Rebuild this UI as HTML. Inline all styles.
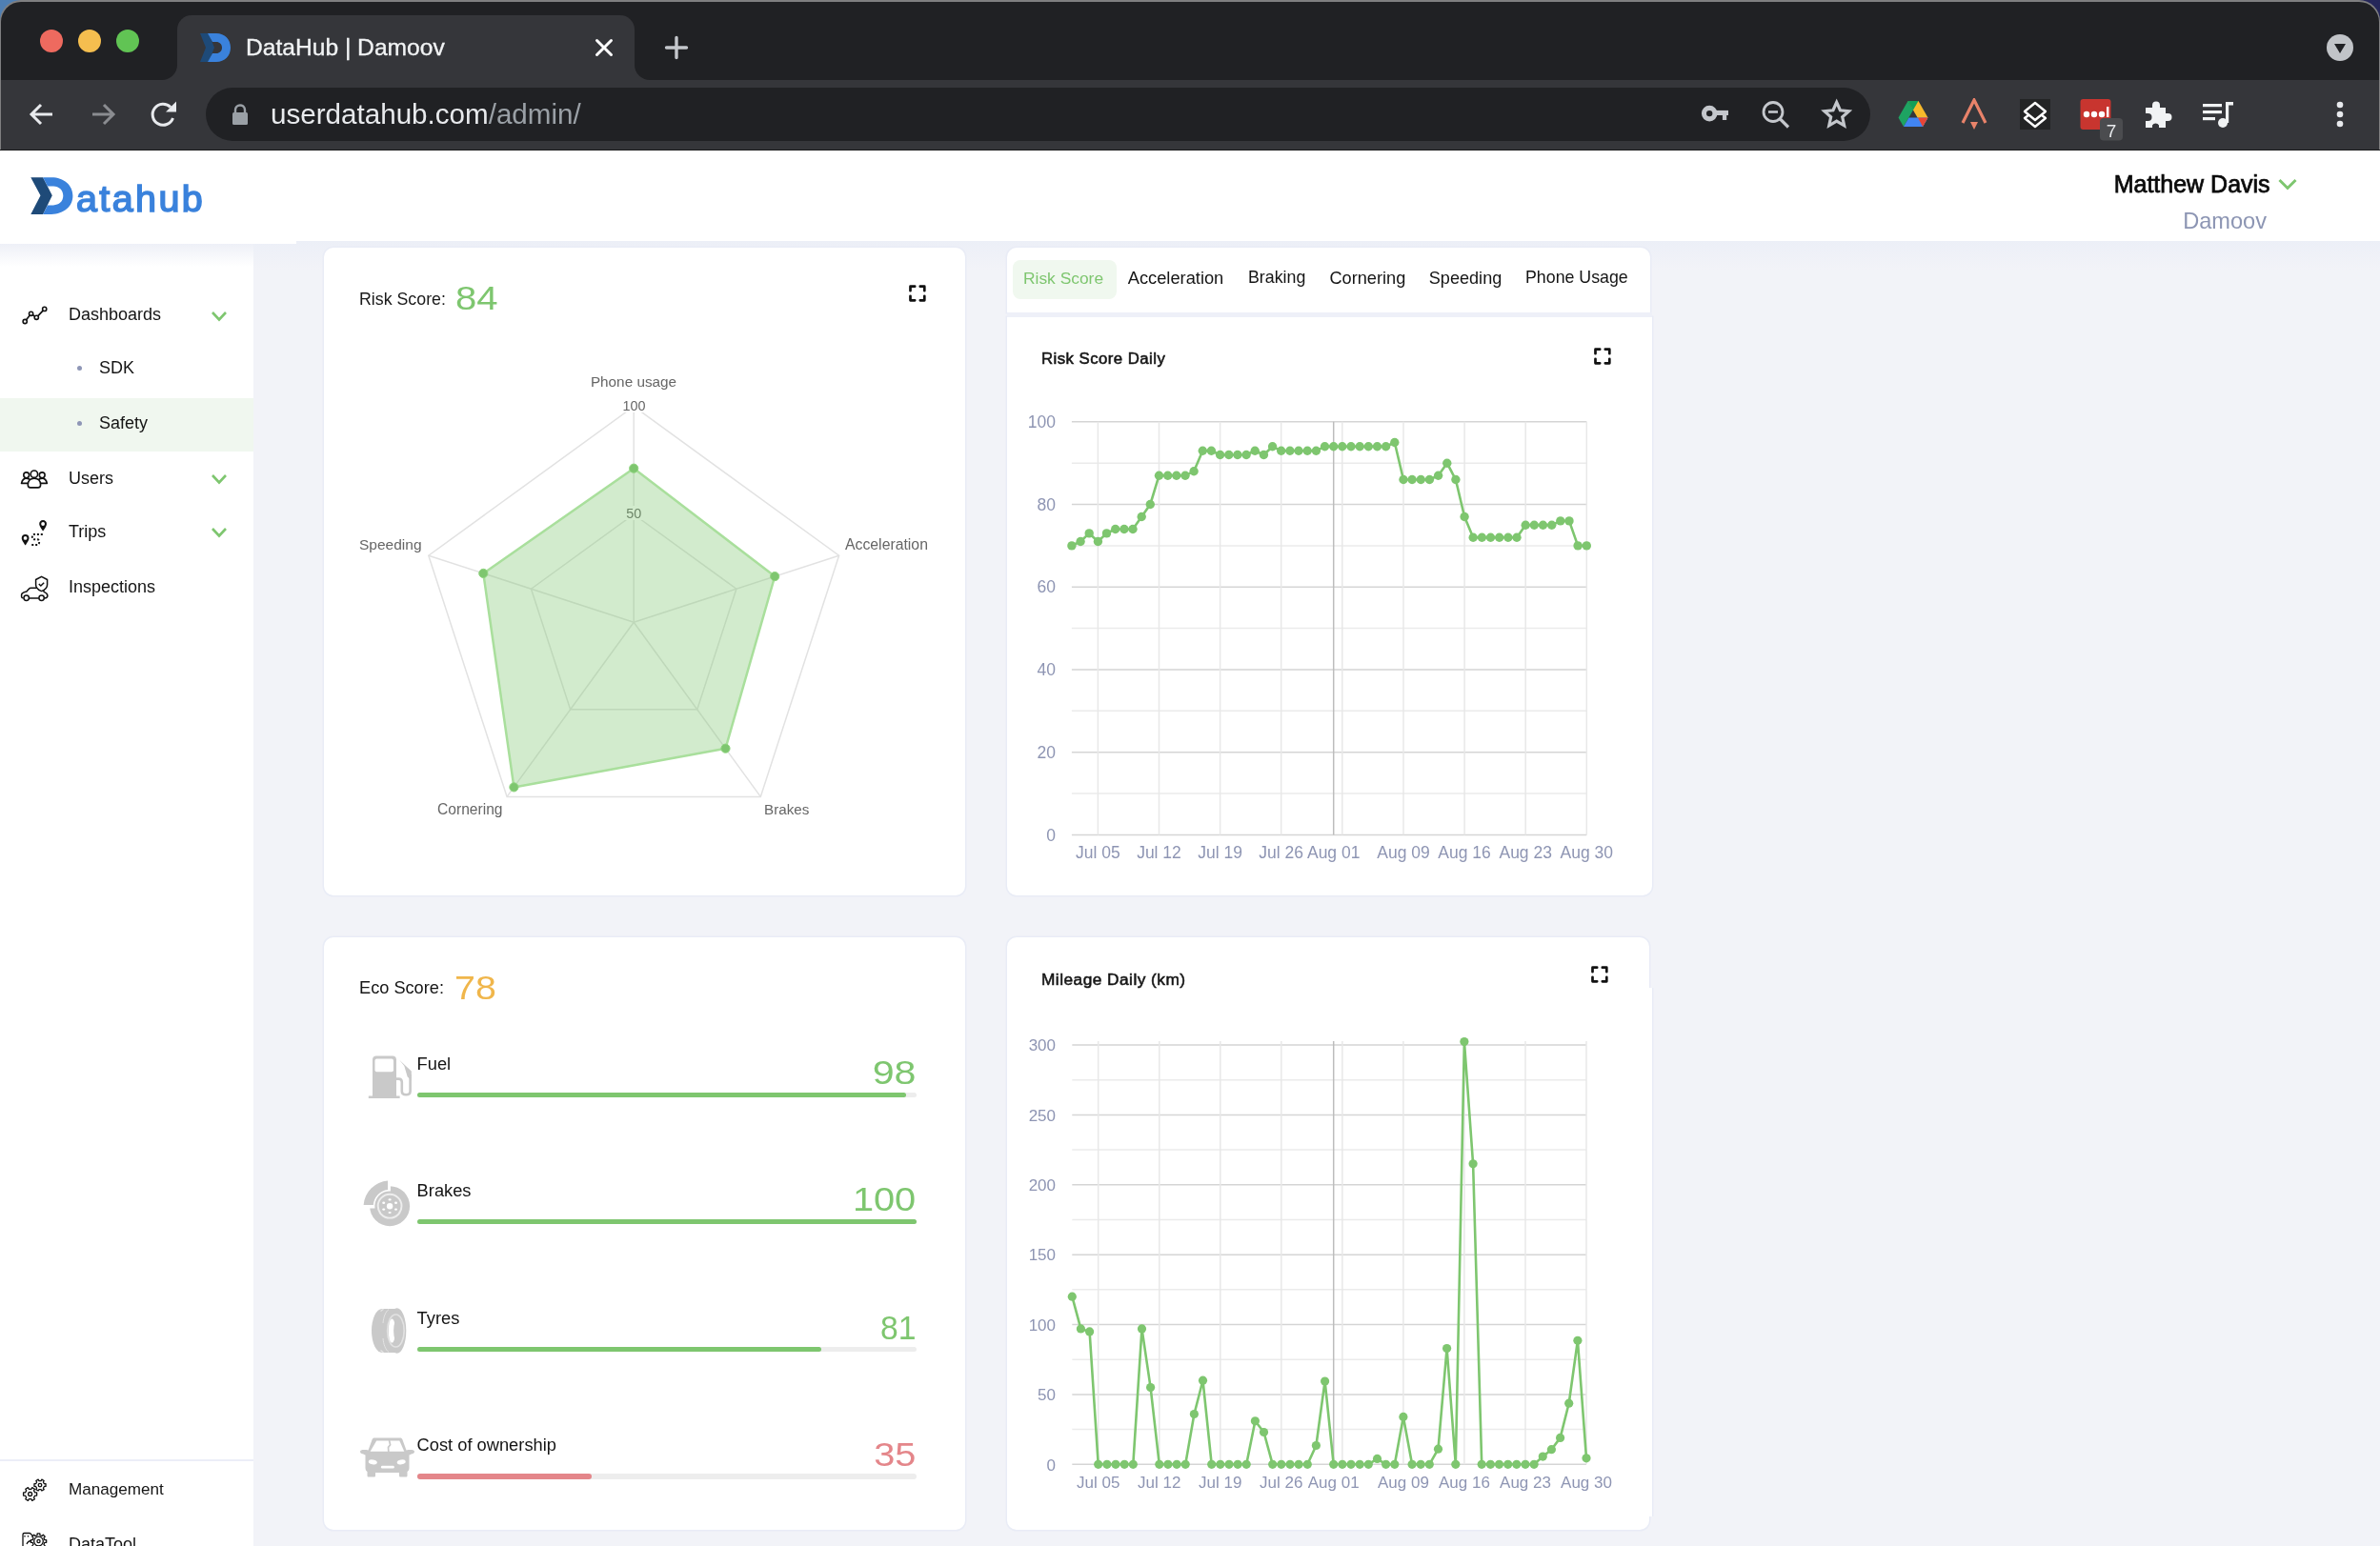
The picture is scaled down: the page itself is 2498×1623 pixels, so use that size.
<!DOCTYPE html><html><head><meta charset="utf-8"><title>DataHub | Damoov</title><style>html,body{margin:0;padding:0}body{width:2498px;height:1623px;overflow:hidden;position:relative;background:#f2f3f8;font-family:"Liberation Sans",sans-serif}#root{position:absolute;left:0;top:0;width:2498px;height:1623px;overflow:hidden;will-change:transform}</style></head><body><div id="root">
<div style="position:absolute;left:0;top:0;width:40px;height:40px;background:#4f7fb3"></div>
<div style="position:absolute;right:0;top:0;width:40px;height:40px;background:#25275a"></div>
<div style="position:absolute;left:0;top:0;width:2498px;height:158px;background:#7f7f80;border-radius:22px 22px 0 0"></div>
<div style="position:absolute;left:1px;top:2px;width:2496px;height:156px;background:#202124;border-radius:21px 21px 0 0"></div>
<div style="position:absolute;left:186px;top:16px;width:480px;height:70px;background:#35363a;border-radius:15px 15px 0 0"></div>
<div style="position:absolute;left:170px;top:68px;width:16px;height:16px;background:#35363a"></div>
<div style="position:absolute;left:166px;top:64px;width:20px;height:20px;background:#202124;border-radius:0 0 16px 0"></div>
<div style="position:absolute;left:666px;top:68px;width:16px;height:16px;background:#35363a"></div>
<div style="position:absolute;left:666px;top:64px;width:20px;height:20px;background:#202124;border-radius:0 0 0 16px"></div>
<div style="position:absolute;left:1px;top:84px;width:2496px;height:73px;background:#35363a"></div>
<div style="position:absolute;left:0;top:157px;width:2498px;height:1px;background:#1a1a1c"></div>
<div style="position:absolute;left:42px;top:31px;width:24px;height:24px;border-radius:50%;background:#ee6a5f"></div>
<div style="position:absolute;left:82px;top:31px;width:24px;height:24px;border-radius:50%;background:#f5be4f"></div>
<div style="position:absolute;left:122px;top:31px;width:24px;height:24px;border-radius:50%;background:#61c454"></div>
<svg style="position:absolute;left:209px;top:34px" width="34" height="32" viewBox="0 0 34 32">
<path d="M1 1 L10 1 L16 16 L10 31 L1 31 L7 16 Z" fill="#1e4a78"/>
<path d="M9 1 L18 1 C27 1 33 7.5 33 16 C33 24.5 27 31 18 31 L9 31 L14 22 L18 22 C21.5 22 24 19.5 24 16 C24 12.5 21.5 10 18 10 L14 10 Z" fill="#3a82dc"/>
</svg>
<div style="position:absolute;left:258px;top:34.5px;font-size:24.6px;line-height:30px;color:#f1f3f4;-webkit-text-stroke:0.35px #f1f3f4;white-space:nowrap">DataHub | Damoov</div>
<svg style="position:absolute;left:622px;top:38px" width="24" height="24" viewBox="0 0 24 24"><path d="M4.5 4.5 L19.5 19.5 M19.5 4.5 L4.5 19.5" stroke="#ffffff" stroke-width="3" stroke-linecap="round"/></svg>
<svg style="position:absolute;left:696px;top:36px" width="28" height="28" viewBox="0 0 28 28"><path d="M14 3.5 V24.5 M3.5 14 H24.5" stroke="#c4c7cc" stroke-width="3.4" stroke-linecap="round"/></svg>
<svg style="position:absolute;left:2441px;top:35px" width="30" height="30" viewBox="0 0 30 30"><circle cx="15" cy="15" r="14" fill="#c1c4c8"/><path d="M9 11 L21 11 L15 21 Z" fill="#202124"/></svg>
<svg style="position:absolute;left:28px;top:104px" width="32" height="32" viewBox="0 0 32 32"><path d="M27 16 H6 M15 6 L5 16 L15 26" stroke="#e8eaed" stroke-width="3" fill="none"/></svg>
<svg style="position:absolute;left:92px;top:104px" width="32" height="32" viewBox="0 0 32 32"><path d="M5 16 H26 M17 6 L27 16 L17 26" stroke="#8a8c90" stroke-width="3" fill="none"/></svg>
<svg style="position:absolute;left:156px;top:104px" width="32" height="32" viewBox="0 0 32 32"><path d="M25.5 20 A11 11 0 1 1 23 8.5" stroke="#e8eaed" stroke-width="3" fill="none"/><path d="M29 2.5 L29 13.5 L18 13.5 Z" fill="#e8eaed"/></svg>
<div style="position:absolute;left:216px;top:92px;width:1747px;height:56px;border-radius:28px;background:#202124"></div>
<svg style="position:absolute;left:242px;top:108px" width="20" height="24" viewBox="0 0 20 24"><path d="M5 11 V7.5 A5 5 0 0 1 15 7.5 V11" stroke="#9aa0a6" stroke-width="2.4" fill="none"/><rect x="2" y="10" width="16" height="13" rx="1.5" fill="#9aa0a6"/></svg>
<div style="position:absolute;left:284px;top:101.5px;font-size:29.6px;line-height:36px;color:#e8eaed;white-space:nowrap">userdatahub.com<span style="color:#9aa0a6">/admin/</span></div>
<svg style="position:absolute;left:1783px;top:104px" width="34" height="32" viewBox="0 0 34 32"><path fill-rule="evenodd" fill="#c4c7cc" d="M11.2 6.8 A8.3 8.3 0 1 1 11.2 23.4 A8.3 8.3 0 1 1 11.2 6.8 Z M11.2 11.9 A3.2 3.2 0 1 0 11.2 18.3 A3.2 3.2 0 1 0 11.2 11.9 Z"/><rect x="17" y="11.9" width="14" height="5.1" fill="#c4c7cc"/><rect x="24.9" y="15" width="4.3" height="7" fill="#c4c7cc"/></svg>
<svg style="position:absolute;left:1847px;top:104px" width="34" height="32" viewBox="0 0 34 32"><circle cx="14" cy="13.5" r="10" stroke="#c4c7cc" stroke-width="2.8" fill="none"/><path d="M21.5 21 L30 29.5" stroke="#c4c7cc" stroke-width="3.2"/><path d="M9 13.5 H19" stroke="#c4c7cc" stroke-width="2.6"/></svg>
<svg style="position:absolute;left:1910px;top:103px" width="36" height="34" viewBox="0 0 36 34"><polygon points="17.70,4.35 21.43,12.72 30.54,13.68 23.73,19.81 25.64,28.77 17.70,24.19 9.76,28.77 11.67,19.81 4.86,13.68 13.97,12.72" stroke="#c4c7cc" stroke-width="3.2" fill="none" stroke-linejoin="miter" stroke-miterlimit="10"/></svg>
<svg style="position:absolute;left:1992px;top:105px" width="32" height="30" viewBox="0 0 32 30">
<path d="M10.5 1 L21.5 1 L31.5 18.5 L26 28 Z" fill="#f7b92b"/>
<path d="M10.5 1 L16 10.5 L6 28 L0.5 18.5 Z" fill="#1ea362"/>
<path d="M6 28 L11.5 18.5 L31.5 18.5 L26 28 Z" fill="#4185f3"/>
<path d="M10.5 1 L21.5 1 L16 10.5 Z" fill="#139e58"/>
<path d="M26 28 L31.5 18.5 L21 18.5 Z" fill="#e84436"/>
</svg>
<svg style="position:absolute;left:2058px;top:103px" width="28" height="34" viewBox="0 0 28 34"><path d="M2 26 L14 2 L26 26" stroke="#e9836a" stroke-width="3.2" fill="none" stroke-linejoin="miter"/><path d="M10 25 L18 25 L14 33 Z" fill="#e9836a"/></svg>
<svg style="position:absolute;left:2120px;top:104px" width="32" height="32" viewBox="0 0 32 32"><rect width="32" height="32" fill="#232425"/><path d="M16 4 L27 13 L16 22 L5 13 Z" stroke="#fff" stroke-width="2.4" fill="none" stroke-linejoin="round"/><path d="M9 17 L5 20 L16 29 L27 20 L23 17" stroke="#fff" stroke-width="2.4" fill="none" stroke-linejoin="round"/></svg>
<svg style="position:absolute;left:2183px;top:104px" width="48" height="44" viewBox="0 0 48 44"><rect x="0.5" y="0" width="32" height="32" rx="3" fill="#c8352f"/><circle cx="7" cy="16" r="3.2" fill="#fff"/><circle cx="15" cy="16" r="3.2" fill="#fff"/><circle cx="23" cy="16" r="3.2" fill="#fff"/><rect x="28" y="8" width="2.4" height="11" fill="#fff"/><rect x="21" y="20" width="24" height="23.5" rx="4" fill="#4b4c4f"/><text x="33" y="39.5" font-family="Liberation Sans" font-size="19" fill="#e8eaed" text-anchor="middle">7</text></svg>
<svg style="position:absolute;left:2249px;top:104px" width="32" height="32" viewBox="0 0 32 32"><path d="M3 9 H10 V6.5 A4 4 0 0 1 18 6.5 V9 H24 V15 H26.5 A4 4 0 0 1 26.5 23 H24 V30 H17 V27.5 A4 4 0 0 0 10 27.5 V30 H3 V23 H5.5 A4 4 0 0 0 5.5 15 H3 Z" fill="#f1f3f4"/></svg>
<svg style="position:absolute;left:2311px;top:104px" width="34" height="32" viewBox="0 0 34 32"><rect x="1" y="5" width="20" height="3.2" fill="#f1f3f4"/><rect x="1" y="12" width="20" height="3.2" fill="#f1f3f4"/><rect x="1" y="19" width="13" height="3.2" fill="#f1f3f4"/><rect x="25" y="3" width="3.2" height="22" fill="#f1f3f4"/><rect x="25" y="3" width="8" height="3.5" fill="#f1f3f4"/><circle cx="22" cy="25" r="5" fill="#f1f3f4"/></svg>
<svg style="position:absolute;left:2448px;top:104px" width="16" height="32" viewBox="0 0 16 32"><circle cx="8" cy="6" r="3.3" fill="#e8eaed"/><circle cx="8" cy="16" r="3.3" fill="#e8eaed"/><circle cx="8" cy="26" r="3.3" fill="#e8eaed"/></svg>
<div style="position:absolute;left:0;top:158px;width:2498px;height:95px;background:#fff"></div>
<div style="position:absolute;left:0;top:158px;width:311px;height:98px;background:#fff"></div>
<svg style="position:absolute;left:30px;top:185px" width="48" height="42" viewBox="0 0 48 42">
<path d="M2.3 1.3 H15.1 L24.8 20.3 L15.1 39.9 H2.3 L12.5 20.3 Z" fill="#1e4a78"/>
<path d="M15.1 1.3 H24 C37 1.3 46.4 9.5 46.4 20.6 C46.4 31.7 37 39.9 24 39.9 H15.1 L20 30.4 H26 C32 30.4 36.3 26.4 36.3 20.6 C36.3 14.8 32 10.6 26 10.6 H19.9 Z" fill="#3a82dc"/>
</svg>
<div style="position:absolute;left:80.0px;top:188.8px;font-size:39.5px;line-height:39.5px;color:#3a82dc;font-weight:400;white-space:nowrap;-webkit-text-stroke:1.6px #3a82dc;letter-spacing:2.4px">atahub</div>
<div style="position:absolute;right:115.4px;top:181.3px;font-size:25px;line-height:25px;color:#0a0a0a;font-weight:400;white-space:nowrap;-webkit-text-stroke:0.75px #0a0a0a;letter-spacing:0px">Matthew Davis</div>
<svg style="position:absolute;left:2390px;top:186px" width="22" height="15" viewBox="0 0 22 15"><path d="M2.5 3 L11 11.5 L19.5 3" stroke="#7ec66f" stroke-width="3" fill="none"/></svg>
<div style="position:absolute;right:119.0px;top:220.5px;font-size:23.6px;line-height:23.6px;color:#8c95b3;font-weight:400;white-space:nowrap;">Damoov</div>
<div style="position:absolute;left:266px;top:253px;width:2232px;height:1370px;background:#f2f3f8"></div>
<div style="position:absolute;left:266px;top:253px;width:2232px;height:30px;background:linear-gradient(#eceff7,#f2f3f8)"></div>
<div style="position:absolute;left:266px;top:253px;width:45px;height:3px;background:#fff"></div>
<div style="position:absolute;left:340px;top:260px;width:673px;height:680px;background:#fff;border-radius:10px;box-shadow:0 0 0 1.5px #e9ecf6;"></div>
<div style="position:absolute;left:1057px;top:260px;width:675px;height:68px;background:#fff;border-radius:10px 10px 0 0;box-shadow:0 0 0 1.5px #e9ecf6;"></div>
<div style="position:absolute;left:1057px;top:333px;width:677px;height:607px;background:#fff;border-radius:0 0 10px 10px;box-shadow:0 0 0 1.5px #e9ecf6;"></div>
<div style="position:absolute;left:340px;top:984px;width:673px;height:622px;background:#fff;border-radius:10px;box-shadow:0 0 0 1.5px #e9ecf6;"></div>
<div style="position:absolute;left:1057px;top:984px;width:674px;height:622px;background:#fff;border-radius:10px;box-shadow:0 0 0 1.5px #e9ecf6;"></div>
<div style="position:absolute;left:1725px;top:1037px;width:9px;height:555px;background:#fff;box-shadow:1.5px 0 0 0 #e9ecf6"></div>
<div style="position:absolute;left:0;top:256px;width:266px;height:1367px;background:#fff"></div>
<div style="position:absolute;left:0;top:256px;width:266px;height:24px;background:linear-gradient(#eef0f7,#ffffff)"></div>
<div style="position:absolute;left:0;top:418px;width:266px;height:56px;background:#f0f7ef"></div>
<div style="position:absolute;left:72.0px;top:321.3px;font-size:18px;line-height:18px;color:#151515;font-weight:400;white-space:nowrap;">Dashboards</div>
<svg style="position:absolute;left:221px;top:326px" width="18" height="12" viewBox="0 0 18 12"><path d="M2 2 L9 9.5 L16 2" stroke="#7ec66f" stroke-width="2.6" fill="none"/></svg>
<div style="position:absolute;left:80.5px;top:383.5px;width:5px;height:5px;border-radius:50%;background:#8e96b6"></div>
<div style="position:absolute;left:104.0px;top:376.8px;font-size:18px;line-height:18px;color:#151515;font-weight:400;white-space:nowrap;">SDK</div>
<div style="position:absolute;left:80.5px;top:441.5px;width:5px;height:5px;border-radius:50%;background:#8e96b6"></div>
<div style="position:absolute;left:104.0px;top:434.8px;font-size:18px;line-height:18px;color:#151515;font-weight:400;white-space:nowrap;">Safety</div>
<div style="position:absolute;left:72.0px;top:492.8px;font-size:18px;line-height:18px;color:#151515;font-weight:400;white-space:nowrap;">Users</div>
<svg style="position:absolute;left:221px;top:497px" width="18" height="12" viewBox="0 0 18 12"><path d="M2 2 L9 9.5 L16 2" stroke="#7ec66f" stroke-width="2.6" fill="none"/></svg>
<div style="position:absolute;left:72.0px;top:548.8px;font-size:18px;line-height:18px;color:#151515;font-weight:400;white-space:nowrap;">Trips</div>
<svg style="position:absolute;left:221px;top:553px" width="18" height="12" viewBox="0 0 18 12"><path d="M2 2 L9 9.5 L16 2" stroke="#7ec66f" stroke-width="2.6" fill="none"/></svg>
<div style="position:absolute;left:72.0px;top:606.8px;font-size:18px;line-height:18px;color:#151515;font-weight:400;white-space:nowrap;">Inspections</div>
<svg style="position:absolute;left:22px;top:320px" width="28" height="22" viewBox="0 0 28 22"><path d="M4.2 17.5 L10.6 9.3 L16.3 13.3 L24.7 4.4" stroke="#111" stroke-width="1.7" fill="none"/><g fill="#fff" stroke="#111" stroke-width="1.6"><circle cx="4.2" cy="17.5" r="2.1"/><circle cx="10.6" cy="9.3" r="2.1"/><circle cx="16.3" cy="13.3" r="2.1"/><circle cx="24.7" cy="4.4" r="2.1"/></g></svg>
<svg style="position:absolute;left:21px;top:492px" width="30" height="22" viewBox="0 0 30 22"><g stroke="#111" stroke-width="1.6" fill="#fff" stroke-linejoin="round">
<path d="M9.5 15.4 H1.5 C2.3 11.8 4.3 10.1 6.7 10.1 C8.6 10.1 10 10.8 11 12"/>
<path d="M20.3 15.4 H28.4 C27.6 11.8 25.6 10.1 23.2 10.1 C21.3 10.1 19.9 10.8 18.9 12"/>
<circle cx="6.7" cy="6.8" r="2.9"/><circle cx="23.2" cy="6.8" r="2.9"/>
<path d="M8.3 17 C8.3 12.5 11 10.2 14.9 10.2 C18.8 10.2 21.6 12.5 21.6 17 C21.6 19 20.5 19.9 19 19.9 H10.8 C9.3 19.9 8.3 19 8.3 17 Z"/>
<circle cx="14.9" cy="5.7" r="3.7"/></g></svg>
<svg style="position:absolute;left:21px;top:545px" width="30" height="30" viewBox="0 0 30 30">
<path d="M24.1 1.1 C21.8 1.1 20.2 2.8 20.2 5 C20.2 7.3 24.1 12.6 24.1 12.6 C24.1 12.6 28 7.3 28 5 C28 2.8 26.4 1.1 24.1 1.1 Z" fill="#111"/><circle cx="24.1" cy="5" r="1.9" fill="#fff"/>
<path d="M5.6 16 C3.3 16 1.7 17.7 1.7 19.9 C1.7 22.2 5.6 27.4 5.6 27.4 C5.6 27.4 9.5 22.2 9.5 19.9 C9.5 17.7 7.9 16 5.6 16 Z" fill="#111"/><circle cx="5.6" cy="19.9" r="1.9" fill="#fff"/>
<path d="M23.8 16 H14.5 C12.3 16 12.3 21.2 14.5 21.2 H18.3 C20.8 21.2 20.8 27 18.3 27 H12" stroke="#111" stroke-width="1.9" fill="none" stroke-dasharray="2 1.9"/></svg>
<svg style="position:absolute;left:21px;top:603px" width="30" height="30" viewBox="0 0 30 30"><g stroke="#111" stroke-width="1.5" fill="none" stroke-linejoin="round">
<path d="M22.6 2.3 L28.6 5.5 V10.8 C28.6 14 26.4 16.2 22.6 17.6 C18.8 16.2 16.6 14 16.6 10.8 V5.5 Z"/><path d="M19.8 10 L21.8 12 L25.2 8.8"/>
<path d="M17.4 14.2 H11.6 C10.6 14.2 9.8 14.6 9.1 15.4 L6.9 18 C4.3 18.5 1.6 19.3 1.6 21.6 V23.4 C1.6 24.3 2.3 24.8 3.6 25"/><path d="M9.6 25 H19.8"/>
<path d="M24.7 17 L25.2 18.4 C27.5 19.3 28.9 20.3 28.9 22.4 C28.9 23.8 28.3 24.7 25.8 25"/>
<circle cx="6.7" cy="24.7" r="2.7"/><circle cx="22.6" cy="24.7" r="2.7"/></g></svg>
<div style="position:absolute;left:0;top:1532px;width:266px;height:2px;background:#eceef8"></div>
<div style="position:absolute;left:72.0px;top:1554.5px;font-size:17.1px;line-height:17.1px;color:#151515;font-weight:400;white-space:nowrap;">Management</div>
<div style="position:absolute;left:72.0px;top:1611.8px;font-size:18px;line-height:18px;color:#151515;font-weight:400;white-space:nowrap;">DataTool</div>
<svg style="position:absolute;left:15px;top:1545px" width="45" height="40" viewBox="0 0 45 40"><g stroke="#111" stroke-width="1.3" fill="none" stroke-linejoin="round">
<path d="M31.39 12.72 L33.05 12.75 L33.05 15.45 L31.39 15.48 L30.39 17.21 L31.20 18.66 L28.85 20.02 L28.00 18.59 L26.00 18.59 L25.15 20.02 L22.80 18.66 L23.61 17.21 L22.61 15.48 L20.95 15.45 L20.95 12.75 L22.61 12.72 L23.61 10.99 L22.80 9.54 L25.15 8.18 L26.00 9.61 L28.00 9.61 L28.85 8.18 L31.20 9.54 L30.39 10.99 Z"/><circle cx="27" cy="14.1" r="1.8"/>
<path d="M21.66 21.92 L23.63 21.93 L23.63 25.07 L21.66 25.08 L20.50 27.09 L21.47 28.80 L18.75 30.37 L17.76 28.67 L15.44 28.67 L14.45 30.37 L11.73 28.80 L12.70 27.09 L11.54 25.08 L9.57 25.07 L9.57 21.93 L11.54 21.92 L12.70 19.91 L11.73 18.20 L14.45 16.63 L15.44 18.33 L17.76 18.33 L18.75 16.63 L21.47 18.20 L20.50 19.91 Z"/><circle cx="16.6" cy="23.5" r="2"/></g></svg>
<svg style="position:absolute;left:15px;top:1600px" width="45" height="23" viewBox="0 0 45 23"><g stroke="#111" stroke-width="1.3" fill="none" stroke-linejoin="round">
<path d="M9 23 V11 C9 10 9.6 9.5 10.5 9.5 H16 C17 9.5 17.5 10.3 18 11 L19.5 12.5"/><path d="M11 12 V13.5 M14.5 12 V13.5"/>
<path d="M31.73 16.55 L33.69 16.64 L33.69 19.36 L31.73 19.45 L30.93 21.39 L32.25 22.83 L30.33 24.75 L28.89 23.43 L26.95 24.23 L26.86 26.19 L24.14 26.19 L24.05 24.23 L22.11 23.43 L20.67 24.75 L18.75 22.83 L20.07 21.39 L19.27 19.45 L17.31 19.36 L17.31 16.64 L19.27 16.55 L20.07 14.61 L18.75 13.17 L20.67 11.25 L22.11 12.57 L24.05 11.77 L24.14 9.81 L26.86 9.81 L26.95 11.77 L28.89 12.57 L30.33 11.25 L32.25 13.17 L30.93 14.61 Z"/><circle cx="25.5" cy="18" r="4.8"/><circle cx="25.5" cy="18" r="1.6"/>
<path d="M13 21 C14 18.5 16 17.5 18 17.5"/></g></svg>
<svg style="position:absolute;left:0;top:0" width="2498" height="1623" viewBox="0 0 2498 1623">
<polygon points="665.2,426.7 880.6,583.2 798.3,836.4 532.1,836.4 449.8,583.2" fill="none" stroke="#e2e2e2" stroke-width="1.5"/>
<polygon points="665.2,540.0 772.9,618.2 731.8,744.8 598.6,744.8 557.5,618.2" fill="none" stroke="#e2e2e2" stroke-width="1.5"/>
<line x1="665.2" y1="653.2" x2="665.2" y2="426.7" stroke="#e2e2e2" stroke-width="1.5"/>
<line x1="665.2" y1="653.2" x2="880.6" y2="583.2" stroke="#e2e2e2" stroke-width="1.5"/>
<line x1="665.2" y1="653.2" x2="798.3" y2="836.4" stroke="#e2e2e2" stroke-width="1.5"/>
<line x1="665.2" y1="653.2" x2="532.1" y2="836.4" stroke="#e2e2e2" stroke-width="1.5"/>
<line x1="665.2" y1="653.2" x2="449.8" y2="583.2" stroke="#e2e2e2" stroke-width="1.5"/>
<rect x="650" y="417" width="31" height="16" fill="#fff"/>
<rect x="654" y="531" width="23" height="15" fill="#fff"/>
<text x="665.5" y="431.2" font-family="Liberation Sans" font-size="14.4" fill="#666" text-anchor="middle">100</text>
<text x="665.2" y="544.2" font-family="Liberation Sans" font-size="14.4" fill="#666" text-anchor="middle">50</text>
<polygon points="665.2,491.7 813.2,605.1 761.5,785.7 539.4,826.4 507.3,601.9" fill="rgba(126,198,111,0.35)" stroke="#a9df9c" stroke-width="2.5" stroke-linejoin="round"/>
<circle cx="665.2" cy="491.7" r="4.6" fill="#7ec66f" stroke="#8fd47f" stroke-width="1"/>
<circle cx="813.2" cy="605.1" r="4.6" fill="#7ec66f" stroke="#8fd47f" stroke-width="1"/>
<circle cx="761.5" cy="785.7" r="4.6" fill="#7ec66f" stroke="#8fd47f" stroke-width="1"/>
<circle cx="539.4" cy="826.4" r="4.6" fill="#7ec66f" stroke="#8fd47f" stroke-width="1"/>
<circle cx="507.3" cy="601.9" r="4.6" fill="#7ec66f" stroke="#8fd47f" stroke-width="1"/>
</svg>
<div style="position:absolute;left:165.0px;width:1000px;text-align:center;top:393.0px;font-size:15.3px;line-height:15.3px;color:#666666;font-weight:400;white-space:nowrap;">Phone usage</div>
<div style="position:absolute;left:377.0px;top:563.9px;font-size:15.5px;line-height:15.5px;color:#666666;font-weight:400;white-space:nowrap;">Speeding</div>
<div style="position:absolute;left:887.0px;top:563.6px;font-size:15.8px;line-height:15.8px;color:#666666;font-weight:400;white-space:nowrap;">Acceleration</div>
<div style="position:absolute;left:459.0px;top:841.8px;font-size:15.6px;line-height:15.6px;color:#666666;font-weight:400;white-space:nowrap;">Cornering</div>
<div style="position:absolute;left:802.0px;top:842.1px;font-size:15.2px;line-height:15.2px;color:#666666;font-weight:400;white-space:nowrap;">Brakes</div>
<div style="position:absolute;left:377.0px;top:305.9px;font-size:17.8px;line-height:17.8px;color:#1a1a1a;font-weight:400;white-space:nowrap;">Risk Score:</div>
<div style="position:absolute;left:478.0px;top:295.7px;font-size:35.5px;line-height:35.5px;color:#7ec66f;font-weight:400;white-space:nowrap;transform:scaleX(1.13);transform-origin:0 50%">84</div>
<svg style="position:absolute;left:954px;top:299px" width="18" height="18" viewBox="0 0 18 18"><path d="M1.5 6.2 V1.7 H6.2 M11.8 1.7 H16.3 V6.2 M16.3 11.8 V16.3 H11.8 M6.2 16.3 H1.5 V11.8" stroke="#111" stroke-width="2.7" fill="none" stroke-linecap="round" stroke-linejoin="round"/></svg>
<div style="position:absolute;left:1063px;top:273px;width:109px;height:41px;border-radius:8px;background:#f0f8ef"></div>
<div style="position:absolute;left:1074.0px;top:283.5px;font-size:17.4px;line-height:17.4px;color:#7ec66f;font-weight:400;white-space:nowrap;">Risk Score</div>
<div style="position:absolute;left:1183.7px;top:282.7px;font-size:18.3px;line-height:18.3px;color:#151515;font-weight:400;white-space:nowrap;">Acceleration</div>
<div style="position:absolute;left:1310.0px;top:283.1px;font-size:17.8px;line-height:17.8px;color:#151515;font-weight:400;white-space:nowrap;">Braking</div>
<div style="position:absolute;left:1395.4px;top:282.8px;font-size:18.2px;line-height:18.2px;color:#151515;font-weight:400;white-space:nowrap;">Cornering</div>
<div style="position:absolute;left:1499.8px;top:282.9px;font-size:18.1px;line-height:18.1px;color:#151515;font-weight:400;white-space:nowrap;">Speeding</div>
<div style="position:absolute;left:1601.0px;top:283.1px;font-size:17.8px;line-height:17.8px;color:#151515;font-weight:400;white-space:nowrap;">Phone Usage</div>
<div style="position:absolute;left:1057px;top:328px;width:677px;height:5px;background:#eef0f8"></div>
<div style="position:absolute;left:1093.0px;top:368.6px;font-size:16.8px;line-height:16.8px;color:#151515;font-weight:400;white-space:nowrap;-webkit-text-stroke:0.55px #151515;letter-spacing:0.45px">Risk Score Daily</div>
<svg style="position:absolute;left:1673px;top:365px" width="18" height="18" viewBox="0 0 18 18"><path d="M1.5 6.2 V1.7 H6.2 M11.8 1.7 H16.3 V6.2 M16.3 11.8 V16.3 H11.8 M6.2 16.3 H1.5 V11.8" stroke="#111" stroke-width="2.7" fill="none" stroke-linecap="round" stroke-linejoin="round"/></svg>
<svg style="position:absolute;left:0;top:0" width="2498" height="1623" viewBox="0 0 2498 1623">
<line x1="1124.9" y1="876.4" x2="1665.3" y2="876.4" stroke="#d5d5d5" stroke-width="1.5"/>
<line x1="1124.9" y1="833.0" x2="1665.3" y2="833.0" stroke="#ebebeb" stroke-width="1.5"/>
<line x1="1124.9" y1="789.7" x2="1665.3" y2="789.7" stroke="#d5d5d5" stroke-width="1.5"/>
<line x1="1124.9" y1="746.3" x2="1665.3" y2="746.3" stroke="#ebebeb" stroke-width="1.5"/>
<line x1="1124.9" y1="703.0" x2="1665.3" y2="703.0" stroke="#d5d5d5" stroke-width="1.5"/>
<line x1="1124.9" y1="659.6" x2="1665.3" y2="659.6" stroke="#ebebeb" stroke-width="1.5"/>
<line x1="1124.9" y1="616.2" x2="1665.3" y2="616.2" stroke="#d5d5d5" stroke-width="1.5"/>
<line x1="1124.9" y1="572.9" x2="1665.3" y2="572.9" stroke="#ebebeb" stroke-width="1.5"/>
<line x1="1124.9" y1="529.5" x2="1665.3" y2="529.5" stroke="#d5d5d5" stroke-width="1.5"/>
<line x1="1124.9" y1="486.2" x2="1665.3" y2="486.2" stroke="#ebebeb" stroke-width="1.5"/>
<line x1="1124.9" y1="442.8" x2="1665.3" y2="442.8" stroke="#d5d5d5" stroke-width="1.5"/>
<line x1="1152.4" y1="442.8" x2="1152.4" y2="876.4" stroke="#e8e8e8" stroke-width="1.5"/>
<line x1="1216.5" y1="442.8" x2="1216.5" y2="876.4" stroke="#e8e8e8" stroke-width="1.5"/>
<line x1="1280.6" y1="442.8" x2="1280.6" y2="876.4" stroke="#e8e8e8" stroke-width="1.5"/>
<line x1="1344.7" y1="442.8" x2="1344.7" y2="876.4" stroke="#e8e8e8" stroke-width="1.5"/>
<line x1="1408.8" y1="442.8" x2="1408.8" y2="876.4" stroke="#e8e8e8" stroke-width="1.5"/>
<line x1="1473.0" y1="442.8" x2="1473.0" y2="876.4" stroke="#e8e8e8" stroke-width="1.5"/>
<line x1="1537.1" y1="442.8" x2="1537.1" y2="876.4" stroke="#e8e8e8" stroke-width="1.5"/>
<line x1="1601.2" y1="442.8" x2="1601.2" y2="876.4" stroke="#e8e8e8" stroke-width="1.5"/>
<line x1="1665.3" y1="442.8" x2="1665.3" y2="876.4" stroke="#e8e8e8" stroke-width="1.5"/>
<line x1="1399.7" y1="442.8" x2="1399.7" y2="876.4" stroke="#bdbdbd" stroke-width="1.5"/>
<text x="1108" y="882.6" font-family="Liberation Sans" font-size="17.5" fill="#8e95b3" text-anchor="end">0</text>
<text x="1108" y="795.9" font-family="Liberation Sans" font-size="17.5" fill="#8e95b3" text-anchor="end">20</text>
<text x="1108" y="709.2" font-family="Liberation Sans" font-size="17.5" fill="#8e95b3" text-anchor="end">40</text>
<text x="1108" y="622.4" font-family="Liberation Sans" font-size="17.5" fill="#8e95b3" text-anchor="end">60</text>
<text x="1108" y="535.7" font-family="Liberation Sans" font-size="17.5" fill="#8e95b3" text-anchor="end">80</text>
<text x="1108" y="449.0" font-family="Liberation Sans" font-size="17.5" fill="#8e95b3" text-anchor="end">100</text>
<text x="1152.4" y="900.9" font-family="Liberation Sans" font-size="17.5" fill="#8e95b3" text-anchor="middle">Jul 05</text>
<text x="1216.5" y="900.9" font-family="Liberation Sans" font-size="17.5" fill="#8e95b3" text-anchor="middle">Jul 12</text>
<text x="1280.6" y="900.9" font-family="Liberation Sans" font-size="17.5" fill="#8e95b3" text-anchor="middle">Jul 19</text>
<text x="1344.7" y="900.9" font-family="Liberation Sans" font-size="17.5" fill="#8e95b3" text-anchor="middle">Jul 26</text>
<text x="1399.7" y="900.9" font-family="Liberation Sans" font-size="17.5" fill="#8e95b3" text-anchor="middle">Aug 01</text>
<text x="1473.0" y="900.9" font-family="Liberation Sans" font-size="17.5" fill="#8e95b3" text-anchor="middle">Aug 09</text>
<text x="1537.1" y="900.9" font-family="Liberation Sans" font-size="17.5" fill="#8e95b3" text-anchor="middle">Aug 16</text>
<text x="1601.2" y="900.9" font-family="Liberation Sans" font-size="17.5" fill="#8e95b3" text-anchor="middle">Aug 23</text>
<text x="1665.3" y="900.9" font-family="Liberation Sans" font-size="17.5" fill="#8e95b3" text-anchor="middle">Aug 30</text>
<path d="M1124.9 572.9 L1134.1 568.5 L1143.2 559.9 L1152.4 568.5 L1161.5 559.9 L1170.7 555.5 L1179.9 555.5 L1189.0 555.5 L1198.2 542.5 L1207.3 529.5 L1216.5 499.2 L1225.7 499.2 L1234.8 499.2 L1244.0 499.2 L1253.1 494.8 L1262.3 473.2 L1271.4 473.2 L1280.6 477.5 L1289.8 477.5 L1298.9 477.5 L1308.1 477.5 L1317.2 473.2 L1326.4 477.5 L1335.6 468.8 L1344.7 473.2 L1353.9 473.2 L1363.0 473.2 L1372.2 473.2 L1381.4 473.2 L1390.5 468.8 L1399.7 468.8 L1408.8 468.8 L1418.0 468.8 L1427.2 468.8 L1436.3 468.8 L1445.5 468.8 L1454.6 468.8 L1463.8 464.5 L1473.0 503.5 L1482.1 503.5 L1491.3 503.5 L1500.4 503.5 L1509.6 499.2 L1518.8 486.2 L1527.9 503.5 L1537.1 542.5 L1546.2 564.2 L1555.4 564.2 L1564.5 564.2 L1573.7 564.2 L1582.9 564.2 L1592.0 564.2 L1601.2 551.2 L1610.3 551.2 L1619.5 551.2 L1628.7 551.2 L1637.8 546.9 L1647.0 546.9 L1656.1 572.9 L1665.3 572.9" fill="none" stroke="#7ec66f" stroke-width="2.6" stroke-linejoin="round"/>
<circle cx="1124.9" cy="572.9" r="4.7" fill="#7ec66f"/>
<circle cx="1134.1" cy="568.5" r="4.7" fill="#7ec66f"/>
<circle cx="1143.2" cy="559.9" r="4.7" fill="#7ec66f"/>
<circle cx="1152.4" cy="568.5" r="4.7" fill="#7ec66f"/>
<circle cx="1161.5" cy="559.9" r="4.7" fill="#7ec66f"/>
<circle cx="1170.7" cy="555.5" r="4.7" fill="#7ec66f"/>
<circle cx="1179.9" cy="555.5" r="4.7" fill="#7ec66f"/>
<circle cx="1189.0" cy="555.5" r="4.7" fill="#7ec66f"/>
<circle cx="1198.2" cy="542.5" r="4.7" fill="#7ec66f"/>
<circle cx="1207.3" cy="529.5" r="4.7" fill="#7ec66f"/>
<circle cx="1216.5" cy="499.2" r="4.7" fill="#7ec66f"/>
<circle cx="1225.7" cy="499.2" r="4.7" fill="#7ec66f"/>
<circle cx="1234.8" cy="499.2" r="4.7" fill="#7ec66f"/>
<circle cx="1244.0" cy="499.2" r="4.7" fill="#7ec66f"/>
<circle cx="1253.1" cy="494.8" r="4.7" fill="#7ec66f"/>
<circle cx="1262.3" cy="473.2" r="4.7" fill="#7ec66f"/>
<circle cx="1271.4" cy="473.2" r="4.7" fill="#7ec66f"/>
<circle cx="1280.6" cy="477.5" r="4.7" fill="#7ec66f"/>
<circle cx="1289.8" cy="477.5" r="4.7" fill="#7ec66f"/>
<circle cx="1298.9" cy="477.5" r="4.7" fill="#7ec66f"/>
<circle cx="1308.1" cy="477.5" r="4.7" fill="#7ec66f"/>
<circle cx="1317.2" cy="473.2" r="4.7" fill="#7ec66f"/>
<circle cx="1326.4" cy="477.5" r="4.7" fill="#7ec66f"/>
<circle cx="1335.6" cy="468.8" r="4.7" fill="#7ec66f"/>
<circle cx="1344.7" cy="473.2" r="4.7" fill="#7ec66f"/>
<circle cx="1353.9" cy="473.2" r="4.7" fill="#7ec66f"/>
<circle cx="1363.0" cy="473.2" r="4.7" fill="#7ec66f"/>
<circle cx="1372.2" cy="473.2" r="4.7" fill="#7ec66f"/>
<circle cx="1381.4" cy="473.2" r="4.7" fill="#7ec66f"/>
<circle cx="1390.5" cy="468.8" r="4.7" fill="#7ec66f"/>
<circle cx="1399.7" cy="468.8" r="4.7" fill="#7ec66f"/>
<circle cx="1408.8" cy="468.8" r="4.7" fill="#7ec66f"/>
<circle cx="1418.0" cy="468.8" r="4.7" fill="#7ec66f"/>
<circle cx="1427.2" cy="468.8" r="4.7" fill="#7ec66f"/>
<circle cx="1436.3" cy="468.8" r="4.7" fill="#7ec66f"/>
<circle cx="1445.5" cy="468.8" r="4.7" fill="#7ec66f"/>
<circle cx="1454.6" cy="468.8" r="4.7" fill="#7ec66f"/>
<circle cx="1463.8" cy="464.5" r="4.7" fill="#7ec66f"/>
<circle cx="1473.0" cy="503.5" r="4.7" fill="#7ec66f"/>
<circle cx="1482.1" cy="503.5" r="4.7" fill="#7ec66f"/>
<circle cx="1491.3" cy="503.5" r="4.7" fill="#7ec66f"/>
<circle cx="1500.4" cy="503.5" r="4.7" fill="#7ec66f"/>
<circle cx="1509.6" cy="499.2" r="4.7" fill="#7ec66f"/>
<circle cx="1518.8" cy="486.2" r="4.7" fill="#7ec66f"/>
<circle cx="1527.9" cy="503.5" r="4.7" fill="#7ec66f"/>
<circle cx="1537.1" cy="542.5" r="4.7" fill="#7ec66f"/>
<circle cx="1546.2" cy="564.2" r="4.7" fill="#7ec66f"/>
<circle cx="1555.4" cy="564.2" r="4.7" fill="#7ec66f"/>
<circle cx="1564.5" cy="564.2" r="4.7" fill="#7ec66f"/>
<circle cx="1573.7" cy="564.2" r="4.7" fill="#7ec66f"/>
<circle cx="1582.9" cy="564.2" r="4.7" fill="#7ec66f"/>
<circle cx="1592.0" cy="564.2" r="4.7" fill="#7ec66f"/>
<circle cx="1601.2" cy="551.2" r="4.7" fill="#7ec66f"/>
<circle cx="1610.3" cy="551.2" r="4.7" fill="#7ec66f"/>
<circle cx="1619.5" cy="551.2" r="4.7" fill="#7ec66f"/>
<circle cx="1628.7" cy="551.2" r="4.7" fill="#7ec66f"/>
<circle cx="1637.8" cy="546.9" r="4.7" fill="#7ec66f"/>
<circle cx="1647.0" cy="546.9" r="4.7" fill="#7ec66f"/>
<circle cx="1656.1" cy="572.9" r="4.7" fill="#7ec66f"/>
<circle cx="1665.3" cy="572.9" r="4.7" fill="#7ec66f"/>
</svg>
<div style="position:absolute;left:377.0px;top:1027.8px;font-size:18.2px;line-height:18.2px;color:#151515;font-weight:400;white-space:nowrap;">Eco Score:</div>
<div style="position:absolute;left:477.0px;top:1019.7px;font-size:35.5px;line-height:35.5px;color:#f0b64b;font-weight:400;white-space:nowrap;transform:scaleX(1.11);transform-origin:0 50%">78</div>
<div style="position:absolute;left:437.6px;top:1107.7px;font-size:18.3px;line-height:18.3px;color:#151515;font-weight:400;white-space:nowrap;">Fuel</div>
<div style="position:absolute;right:1537.0px;top:1109.4px;font-size:35.5px;line-height:35.5px;color:#7ec66f;font-weight:400;white-space:nowrap;transform:scaleX(1.16);transform-origin:100% 50%">98</div>
<div style="position:absolute;left:437.6px;top:1146.7px;width:524.4px;height:5.5px;border-radius:3px;background:#ededed"></div>
<div style="position:absolute;left:437.6px;top:1146.7px;width:513.9px;height:5.5px;border-radius:3px;background:#7ec66f"></div>
<div style="position:absolute;left:437.6px;top:1240.7px;font-size:18.3px;line-height:18.3px;color:#151515;font-weight:400;white-space:nowrap;">Brakes</div>
<div style="position:absolute;right:1537.0px;top:1242.4px;font-size:35.5px;line-height:35.5px;color:#7ec66f;font-weight:400;white-space:nowrap;transform:scaleX(1.12);transform-origin:100% 50%">100</div>
<div style="position:absolute;left:437.6px;top:1279.7px;width:524.4px;height:5.5px;border-radius:3px;background:#ededed"></div>
<div style="position:absolute;left:437.6px;top:1279.7px;width:524.4px;height:5.5px;border-radius:3px;background:#7ec66f"></div>
<div style="position:absolute;left:437.6px;top:1374.9px;font-size:18.3px;line-height:18.3px;color:#151515;font-weight:400;white-space:nowrap;">Tyres</div>
<div style="position:absolute;right:1537.0px;top:1376.6px;font-size:35.5px;line-height:35.5px;color:#7ec66f;font-weight:400;white-space:nowrap;transform:scaleX(0.95);transform-origin:100% 50%">81</div>
<div style="position:absolute;left:437.6px;top:1413.9px;width:524.4px;height:5.5px;border-radius:3px;background:#ededed"></div>
<div style="position:absolute;left:437.6px;top:1413.9px;width:424.8px;height:5.5px;border-radius:3px;background:#7ec66f"></div>
<div style="position:absolute;left:437.6px;top:1508.1px;font-size:18.3px;line-height:18.3px;color:#151515;font-weight:400;white-space:nowrap;">Cost of ownership</div>
<div style="position:absolute;right:1537.0px;top:1509.8px;font-size:35.5px;line-height:35.5px;color:#e4868a;font-weight:400;white-space:nowrap;transform:scaleX(1.12);transform-origin:100% 50%">35</div>
<div style="position:absolute;left:437.6px;top:1547.1px;width:524.4px;height:5.5px;border-radius:3px;background:#ededed"></div>
<div style="position:absolute;left:437.6px;top:1547.1px;width:183.5px;height:5.5px;border-radius:3px;background:#e4868a"></div>
<svg style="position:absolute;left:384px;top:1106px" width="52" height="50" viewBox="0 0 52 50">
<path d="M7 6.5 C7 4 8.5 2.5 11 2.5 H28 C30.5 2.5 32 4 32 6.5 V44.5 H35.6 V47 H2.8 V44.5 H7 Z" fill="#c9c9c9"/>
<rect x="9.5" y="5.4" width="19.5" height="13.9" rx="2" fill="#fff"/>
<path d="M35.2 6.8 L47.8 18.6 V28.5 L43.6 24.2 L40.3 13 Z" fill="#c9c9c9"/>
<path d="M32 26.6 H34.5 C36.8 26.6 37.8 27.8 37.8 30 V39.5 C37.8 42 39.6 43.3 42.2 43.3 C44.8 43.3 46.6 42 46.6 39.5 V22" stroke="#c9c9c9" stroke-width="2.6" fill="none"/>
</svg>
<svg style="position:absolute;left:370px;top:1230px" width="64" height="64" viewBox="0 0 64 64">
<circle cx="39.1" cy="36.2" r="21" fill="#c9c9c9"/>
<path d="M39.9 0 V20.4 A15.8 15.8 0 0 0 23.5 38.6 H0 V0 Z" fill="#fff"/>
<path d="M37 9.5 A27.5 27.5 0 0 0 11.6 34.9 L21.85 34.9 A17.3 17.3 0 0 1 37 19.0 Z" fill="#c9c9c9"/>
<circle cx="39.1" cy="36.2" r="12.4" fill="none" stroke="#eeeeee" stroke-width="1.9"/>
<circle cx="39.1" cy="36.2" r="3.2" fill="#fff"/>
<g fill="#fff"><ellipse cx="39.1" cy="29.4" rx="1.6" ry="1.1"/><ellipse cx="39.1" cy="43" rx="1.6" ry="1.1"/><ellipse cx="32.7" cy="32.8" rx="1.5" ry="1.2"/><ellipse cx="45.5" cy="32.8" rx="1.5" ry="1.2"/><ellipse cx="32.7" cy="39.6" rx="1.5" ry="1.2"/><ellipse cx="45.5" cy="39.6" rx="1.5" ry="1.2"/></g>
</svg>
<svg style="position:absolute;left:388px;top:1371px" width="42" height="52" viewBox="0 0 42 52">
<ellipse cx="13" cy="26" rx="11" ry="23" fill="#c9c9c9"/>
<rect x="13" y="3" width="15.6" height="46" fill="#c9c9c9"/>
<ellipse cx="28.6" cy="26" rx="9.7" ry="23.7" fill="#c9c9c9"/>
<ellipse cx="27.4" cy="26" rx="8.8" ry="17" fill="none" stroke="#e2e2e2" stroke-width="1.6"/>
<ellipse cx="23.4" cy="26" rx="3.6" ry="12.6" fill="#fff"/>
<ellipse cx="29.7" cy="26" rx="4.6" ry="12.8" fill="#c9c9c9"/>
<path d="M20 3.6 C16.5 6 14.5 12 14 18 M20 48.4 C16.5 46 14.5 40 14 34" stroke="#e4e4e4" stroke-width="1" fill="none"/>
<path d="M11.5 5.5 L14.5 3.2 M11.5 46.5 L14.5 48.8" stroke="#e6e6e6" stroke-width="1.2"/>
</svg>
<svg style="position:absolute;left:377px;top:1508px" width="60" height="46" viewBox="0 0 60 46">
<path d="M16 1.5 H43 C44 1.5 44.8 2 45.3 3 L49.5 14.5 C52 14 55 13.8 57 14.5 C58.3 15 58.3 17 57 17.8 C55.5 18.5 54 18.8 52.5 19.5 V33 C52.5 35 51.8 36 50.5 37 V41 C50.5 42 50 42.5 49 42.5 H43.5 C42.5 42.5 42 42 42 41 V38 H17 V41 C17 42 16.5 42.5 15.5 42.5 H10 C9 42.5 8.5 42 8.5 41 V37 C7.2 36 6.5 35 6.5 33 V19.5 C5 18.8 3.5 18.5 2 17.8 C0.7 17 0.7 15 2 14.5 C4 13.8 7 14 9.5 14.5 L13.7 3 C14.2 2 15 1.5 16 1.5 Z" fill="#c9c9c9"/>
<path d="M18.2 4.4 H42.3 L47.3 15.7 H11.6 Z" fill="#fff"/>
<path d="M31.5 4 L32.6 8.8 L30.5 11.4 L30.8 16" stroke="#c9c9c9" stroke-width="1.7" fill="none"/>
<ellipse cx="14.3" cy="26.9" rx="4.6" ry="2.5" transform="rotate(12 14.3 26.9)" fill="#fff"/>
<ellipse cx="44.2" cy="26.9" rx="4.6" ry="2.5" transform="rotate(-12 44.2 26.9)" fill="#fff"/>
<rect x="22.9" y="30.8" width="13.9" height="2.7" rx="1.3" fill="#fff"/>
</svg>
<div style="position:absolute;left:1093.0px;top:1020.2px;font-size:17.3px;line-height:17.3px;color:#151515;font-weight:400;white-space:nowrap;-webkit-text-stroke:0.55px #151515;letter-spacing:0.47px">Mileage Daily (km)</div>
<svg style="position:absolute;left:1670px;top:1014px" width="18" height="18" viewBox="0 0 18 18"><path d="M1.5 6.2 V1.7 H6.2 M11.8 1.7 H16.3 V6.2 M16.3 11.8 V16.3 H11.8 M6.2 16.3 H1.5 V11.8" stroke="#111" stroke-width="2.7" fill="none" stroke-linecap="round" stroke-linejoin="round"/></svg>
<svg style="position:absolute;left:0;top:0" width="2498" height="1623" viewBox="0 0 2498 1623">
<line x1="1125.3" y1="1537.3" x2="1665.0" y2="1537.3" stroke="#d5d5d5" stroke-width="1.5"/>
<line x1="1125.3" y1="1500.6" x2="1665.0" y2="1500.6" stroke="#ebebeb" stroke-width="1.5"/>
<line x1="1125.3" y1="1463.9" x2="1665.0" y2="1463.9" stroke="#d5d5d5" stroke-width="1.5"/>
<line x1="1125.3" y1="1427.2" x2="1665.0" y2="1427.2" stroke="#ebebeb" stroke-width="1.5"/>
<line x1="1125.3" y1="1390.5" x2="1665.0" y2="1390.5" stroke="#d5d5d5" stroke-width="1.5"/>
<line x1="1125.3" y1="1353.8" x2="1665.0" y2="1353.8" stroke="#ebebeb" stroke-width="1.5"/>
<line x1="1125.3" y1="1317.2" x2="1665.0" y2="1317.2" stroke="#d5d5d5" stroke-width="1.5"/>
<line x1="1125.3" y1="1280.5" x2="1665.0" y2="1280.5" stroke="#ebebeb" stroke-width="1.5"/>
<line x1="1125.3" y1="1243.8" x2="1665.0" y2="1243.8" stroke="#d5d5d5" stroke-width="1.5"/>
<line x1="1125.3" y1="1207.1" x2="1665.0" y2="1207.1" stroke="#ebebeb" stroke-width="1.5"/>
<line x1="1125.3" y1="1170.4" x2="1665.0" y2="1170.4" stroke="#d5d5d5" stroke-width="1.5"/>
<line x1="1125.3" y1="1133.7" x2="1665.0" y2="1133.7" stroke="#ebebeb" stroke-width="1.5"/>
<line x1="1125.3" y1="1097.0" x2="1665.0" y2="1097.0" stroke="#d5d5d5" stroke-width="1.5"/>
<line x1="1152.7" y1="1093.0" x2="1152.7" y2="1537.3" stroke="#e8e8e8" stroke-width="1.5"/>
<line x1="1216.8" y1="1093.0" x2="1216.8" y2="1537.3" stroke="#e8e8e8" stroke-width="1.5"/>
<line x1="1280.8" y1="1093.0" x2="1280.8" y2="1537.3" stroke="#e8e8e8" stroke-width="1.5"/>
<line x1="1344.8" y1="1093.0" x2="1344.8" y2="1537.3" stroke="#e8e8e8" stroke-width="1.5"/>
<line x1="1408.9" y1="1093.0" x2="1408.9" y2="1537.3" stroke="#e8e8e8" stroke-width="1.5"/>
<line x1="1472.9" y1="1093.0" x2="1472.9" y2="1537.3" stroke="#e8e8e8" stroke-width="1.5"/>
<line x1="1536.9" y1="1093.0" x2="1536.9" y2="1537.3" stroke="#e8e8e8" stroke-width="1.5"/>
<line x1="1601.0" y1="1093.0" x2="1601.0" y2="1537.3" stroke="#e8e8e8" stroke-width="1.5"/>
<line x1="1665.0" y1="1093.0" x2="1665.0" y2="1537.3" stroke="#e8e8e8" stroke-width="1.5"/>
<line x1="1399.7" y1="1093.0" x2="1399.7" y2="1537.3" stroke="#bdbdbd" stroke-width="1.5"/>
<text x="1108" y="1543.5" font-family="Liberation Sans" font-size="17.0" fill="#8e95b3" text-anchor="end">0</text>
<text x="1108" y="1470.1" font-family="Liberation Sans" font-size="17.0" fill="#8e95b3" text-anchor="end">50</text>
<text x="1108" y="1396.7" font-family="Liberation Sans" font-size="17.0" fill="#8e95b3" text-anchor="end">100</text>
<text x="1108" y="1323.4" font-family="Liberation Sans" font-size="17.0" fill="#8e95b3" text-anchor="end">150</text>
<text x="1108" y="1250.0" font-family="Liberation Sans" font-size="17.0" fill="#8e95b3" text-anchor="end">200</text>
<text x="1108" y="1176.6" font-family="Liberation Sans" font-size="17.0" fill="#8e95b3" text-anchor="end">250</text>
<text x="1108" y="1103.2" font-family="Liberation Sans" font-size="17.0" fill="#8e95b3" text-anchor="end">300</text>
<text x="1152.7" y="1561.8" font-family="Liberation Sans" font-size="17.0" fill="#8e95b3" text-anchor="middle">Jul 05</text>
<text x="1216.8" y="1561.8" font-family="Liberation Sans" font-size="17.0" fill="#8e95b3" text-anchor="middle">Jul 12</text>
<text x="1280.8" y="1561.8" font-family="Liberation Sans" font-size="17.0" fill="#8e95b3" text-anchor="middle">Jul 19</text>
<text x="1344.8" y="1561.8" font-family="Liberation Sans" font-size="17.0" fill="#8e95b3" text-anchor="middle">Jul 26</text>
<text x="1399.7" y="1561.8" font-family="Liberation Sans" font-size="17.0" fill="#8e95b3" text-anchor="middle">Aug 01</text>
<text x="1472.9" y="1561.8" font-family="Liberation Sans" font-size="17.0" fill="#8e95b3" text-anchor="middle">Aug 09</text>
<text x="1536.9" y="1561.8" font-family="Liberation Sans" font-size="17.0" fill="#8e95b3" text-anchor="middle">Aug 16</text>
<text x="1601.0" y="1561.8" font-family="Liberation Sans" font-size="17.0" fill="#8e95b3" text-anchor="middle">Aug 23</text>
<text x="1665.0" y="1561.8" font-family="Liberation Sans" font-size="17.0" fill="#8e95b3" text-anchor="middle">Aug 30</text>
<path d="M1125.3 1361.2 L1134.4 1394.9 L1143.6 1397.9 L1152.7 1537.3 L1161.9 1537.3 L1171.0 1537.3 L1180.2 1537.3 L1189.3 1537.3 L1198.5 1394.9 L1207.6 1456.6 L1216.8 1537.3 L1225.9 1537.3 L1235.1 1537.3 L1244.2 1537.3 L1253.4 1484.5 L1262.5 1449.2 L1271.7 1537.3 L1280.8 1537.3 L1290.0 1537.3 L1299.1 1537.3 L1308.2 1537.3 L1317.4 1491.8 L1326.5 1503.5 L1335.7 1537.3 L1344.8 1537.3 L1354.0 1537.3 L1363.1 1537.3 L1372.3 1537.3 L1381.4 1517.5 L1390.6 1450.0 L1399.7 1537.3 L1408.9 1537.3 L1418.0 1537.3 L1427.2 1537.3 L1436.3 1537.3 L1445.5 1531.4 L1454.6 1537.3 L1463.8 1537.3 L1472.9 1487.4 L1482.1 1537.3 L1491.2 1537.3 L1500.3 1537.3 L1509.5 1521.2 L1518.6 1415.5 L1527.8 1537.3 L1536.9 1093.6 L1546.1 1221.8 L1555.2 1537.3 L1564.4 1537.3 L1573.5 1537.3 L1582.7 1537.3 L1591.8 1537.3 L1601.0 1537.3 L1610.1 1537.3 L1619.3 1529.1 L1628.4 1521.7 L1637.6 1509.4 L1646.7 1473.2 L1655.9 1407.3 L1665.0 1530.8" fill="none" stroke="#7ec66f" stroke-width="2.6" stroke-linejoin="round"/>
<circle cx="1125.3" cy="1361.2" r="4.6" fill="#7ec66f"/>
<circle cx="1134.4" cy="1394.9" r="4.6" fill="#7ec66f"/>
<circle cx="1143.6" cy="1397.9" r="4.6" fill="#7ec66f"/>
<circle cx="1152.7" cy="1537.3" r="4.6" fill="#7ec66f"/>
<circle cx="1161.9" cy="1537.3" r="4.6" fill="#7ec66f"/>
<circle cx="1171.0" cy="1537.3" r="4.6" fill="#7ec66f"/>
<circle cx="1180.2" cy="1537.3" r="4.6" fill="#7ec66f"/>
<circle cx="1189.3" cy="1537.3" r="4.6" fill="#7ec66f"/>
<circle cx="1198.5" cy="1394.9" r="4.6" fill="#7ec66f"/>
<circle cx="1207.6" cy="1456.6" r="4.6" fill="#7ec66f"/>
<circle cx="1216.8" cy="1537.3" r="4.6" fill="#7ec66f"/>
<circle cx="1225.9" cy="1537.3" r="4.6" fill="#7ec66f"/>
<circle cx="1235.1" cy="1537.3" r="4.6" fill="#7ec66f"/>
<circle cx="1244.2" cy="1537.3" r="4.6" fill="#7ec66f"/>
<circle cx="1253.4" cy="1484.5" r="4.6" fill="#7ec66f"/>
<circle cx="1262.5" cy="1449.2" r="4.6" fill="#7ec66f"/>
<circle cx="1271.7" cy="1537.3" r="4.6" fill="#7ec66f"/>
<circle cx="1280.8" cy="1537.3" r="4.6" fill="#7ec66f"/>
<circle cx="1290.0" cy="1537.3" r="4.6" fill="#7ec66f"/>
<circle cx="1299.1" cy="1537.3" r="4.6" fill="#7ec66f"/>
<circle cx="1308.2" cy="1537.3" r="4.6" fill="#7ec66f"/>
<circle cx="1317.4" cy="1491.8" r="4.6" fill="#7ec66f"/>
<circle cx="1326.5" cy="1503.5" r="4.6" fill="#7ec66f"/>
<circle cx="1335.7" cy="1537.3" r="4.6" fill="#7ec66f"/>
<circle cx="1344.8" cy="1537.3" r="4.6" fill="#7ec66f"/>
<circle cx="1354.0" cy="1537.3" r="4.6" fill="#7ec66f"/>
<circle cx="1363.1" cy="1537.3" r="4.6" fill="#7ec66f"/>
<circle cx="1372.3" cy="1537.3" r="4.6" fill="#7ec66f"/>
<circle cx="1381.4" cy="1517.5" r="4.6" fill="#7ec66f"/>
<circle cx="1390.6" cy="1450.0" r="4.6" fill="#7ec66f"/>
<circle cx="1399.7" cy="1537.3" r="4.6" fill="#7ec66f"/>
<circle cx="1408.9" cy="1537.3" r="4.6" fill="#7ec66f"/>
<circle cx="1418.0" cy="1537.3" r="4.6" fill="#7ec66f"/>
<circle cx="1427.2" cy="1537.3" r="4.6" fill="#7ec66f"/>
<circle cx="1436.3" cy="1537.3" r="4.6" fill="#7ec66f"/>
<circle cx="1445.5" cy="1531.4" r="4.6" fill="#7ec66f"/>
<circle cx="1454.6" cy="1537.3" r="4.6" fill="#7ec66f"/>
<circle cx="1463.8" cy="1537.3" r="4.6" fill="#7ec66f"/>
<circle cx="1472.9" cy="1487.4" r="4.6" fill="#7ec66f"/>
<circle cx="1482.1" cy="1537.3" r="4.6" fill="#7ec66f"/>
<circle cx="1491.2" cy="1537.3" r="4.6" fill="#7ec66f"/>
<circle cx="1500.3" cy="1537.3" r="4.6" fill="#7ec66f"/>
<circle cx="1509.5" cy="1521.2" r="4.6" fill="#7ec66f"/>
<circle cx="1518.6" cy="1415.5" r="4.6" fill="#7ec66f"/>
<circle cx="1527.8" cy="1537.3" r="4.6" fill="#7ec66f"/>
<circle cx="1536.9" cy="1093.6" r="4.6" fill="#7ec66f"/>
<circle cx="1546.1" cy="1221.8" r="4.6" fill="#7ec66f"/>
<circle cx="1555.2" cy="1537.3" r="4.6" fill="#7ec66f"/>
<circle cx="1564.4" cy="1537.3" r="4.6" fill="#7ec66f"/>
<circle cx="1573.5" cy="1537.3" r="4.6" fill="#7ec66f"/>
<circle cx="1582.7" cy="1537.3" r="4.6" fill="#7ec66f"/>
<circle cx="1591.8" cy="1537.3" r="4.6" fill="#7ec66f"/>
<circle cx="1601.0" cy="1537.3" r="4.6" fill="#7ec66f"/>
<circle cx="1610.1" cy="1537.3" r="4.6" fill="#7ec66f"/>
<circle cx="1619.3" cy="1529.1" r="4.6" fill="#7ec66f"/>
<circle cx="1628.4" cy="1521.7" r="4.6" fill="#7ec66f"/>
<circle cx="1637.6" cy="1509.4" r="4.6" fill="#7ec66f"/>
<circle cx="1646.7" cy="1473.2" r="4.6" fill="#7ec66f"/>
<circle cx="1655.9" cy="1407.3" r="4.6" fill="#7ec66f"/>
<circle cx="1665.0" cy="1530.8" r="4.6" fill="#7ec66f"/>
</svg>
</div></body></html>
